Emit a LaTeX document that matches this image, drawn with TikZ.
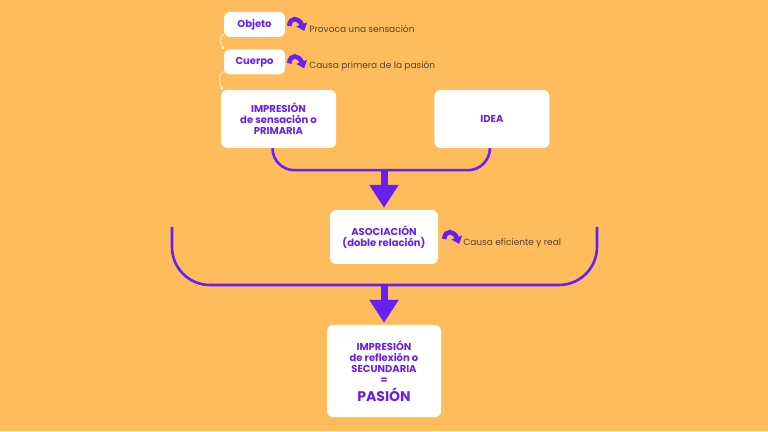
\documentclass[tikz,border=0pt]{standalone}
\usepackage{fontspec}
\setmainfont{Poppins}
\usetikzlibrary{
    arrows.meta,
    positioning,
}
\definecolor{MyBG}{RGB}{255,188,92}
\definecolor{MyPurple}{RGB}{104,32,240}
\definecolor{MyNote}{RGB}{84,68,52}
\tikzstyle{card}=[fill=white,rectangle,rounded corners=6pt,align=center,font=\fontsize{10}{11}\selectfont\bfseries,text=MyPurple,inner sep=2pt]
\tikzstyle{note}=[anchor=west,font=\fontsize{9}{11}\selectfont,text=MyNote,inner sep=0pt]
\tikzstyle{brace}=[draw=MyPurple,line width=2.6pt]
\tikzstyle{bigarrow}=[draw=MyPurple,line width=7pt,-{Triangle[length=23pt,width=28pt]}]
\tikzstyle{link}=[draw=white,line width=0.6pt,-{Stealth[length=3pt,width=3pt]}]
\tikzstyle{curl}=[draw=MyPurple,line width=4.6pt,-{Triangle[length=7pt,width=11pt]}]
\newcommand{\Curl}[1]{%
    \draw[curl] #1 .. controls +(1,10) and +(-5,13) .. +(15,-5);
}
\begin{document}
\begin{tikzpicture}[x=1pt,y=1pt]
    \useasboundingbox[fill=MyBG] (0,0) rectangle (768,431);

    % Boxes
    \node[card,minimum width=61pt,minimum height=25pt] (Objeto) at (254.5,406.5) {Objeto};
    \node[card,minimum width=61pt,minimum height=25pt,below=12pt of Objeto] (Cuerpo) {Cuerpo};
    \node[card,minimum width=115pt,minimum height=58pt] (Primaria) at (278.5,312) {IMPRESIÓN\\de sensación o\\PRIMARIA};
    \node[card,minimum width=115pt,minimum height=58pt,right=98pt of Primaria] (Idea) {IDEA};
    \node[card,minimum width=108pt,minimum height=54pt] (Asociacion) at (384,194) {ASOCIACIÓN\\(doble relación)};
    \node[card,minimum width=114pt,minimum height=92pt] (Pasion) at (384,60) {IMPRESIÓN\\de reflexión o\\SECUNDARIA\\=\\[3pt]{\fontsize{14}{15}\selectfont PASIÓN}};

    % Small links on the left
    \draw[link] ([yshift=3pt]Objeto.south west) to[out=200,in=120] (Cuerpo.north west);
    \draw[link] ([yshift=3pt]Cuerpo.south west) to[out=200,in=120] ([xshift=2pt]Primaria.north west);

    % Notes
    \Curl{([xshift=4pt,yshift=-1.5pt]Objeto.east)}
    \node[note,right=24pt of Objeto.east,yshift=-4.5pt] (provoca) {Provoca una sensación};
    \Curl{([xshift=4pt,yshift=-1.5pt]Cuerpo.east)}
    \node[note,right=24pt of Cuerpo.east,yshift=-4.5pt] (causa1) {Causa primera de la pasión};
    \Curl{([xshift=6pt,yshift=-2pt]Asociacion.east)}
    \node[note,right=25pt of Asociacion.east,yshift=-6pt] (causa2) {Causa eficiente y real};

    % First bracket
    \draw[brace,rounded corners=22pt] ([xshift=-6pt]Primaria.south) -- ++(0,-22) coordinate (low1) -| ([xshift=-2pt]Idea.south);
    \coordinate (join1) at (Asociacion.north |- low1);
    \draw[bigarrow] (join1) -- ([yshift=2pt]Asociacion.north);

    % Second bracket
    \coordinate (left2) at (172,204);
    \coordinate (right2) at (597,204);
    \draw[brace,rounded corners=38pt] (left2) -- ++(0,-58) coordinate (low2) -| (right2);
    \coordinate (join2) at (Pasion.north |- low2);
    \draw[bigarrow] (join2) -- ([yshift=2pt]Pasion.north);
\end{tikzpicture}
\end{document}
